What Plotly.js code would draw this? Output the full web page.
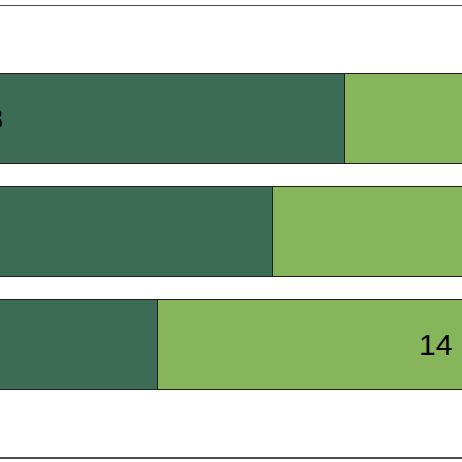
<!DOCTYPE html>
<html>
<head>
<meta charset="utf-8">
<script src="https://cdn.plot.ly/plotly-3.0.1.min.js"></script>
<style>
  html, body { margin: 0; padding: 0; background: #ffffff; overflow: hidden; }
  #chart { width: 462px; height: 462px; }
</style>
</head>
<body>
<div id="chart"></div>
<script>
// rows top -> bottom (tick labels fall outside the visible crop)
const categories = ["Group A", "Group B", "Group C"];
const darkValues = [17.98, 16.18, 13.28];
const lightValues = [9, 11, 14];

const DARK = "#3c6b56";
const LIGHT = "#87b55b";
const EDGE = "#1e1e1e";

const seg = (vals, color) => ({
  type: "bar",
  orientation: "h",
  y: categories,
  x: vals,
  texttemplate: "%{x:.0f}",
  textposition: "inside",
  insidetextanchor: "middle",
  textfont: { family: '"Liberation Sans", Arial, sans-serif', size: 30, color: "#000000" },
  marker: { color, line: { color: EDGE, width: 1 } },
  cliponaxis: true,
  hoverinfo: "skip",
});

const layout = {
  width: 462,
  height: 462,
  margin: { l: 0, r: 0, t: 6, b: 5, pad: 0 },
  paper_bgcolor: "#ffffff",
  plot_bgcolor: "#ffffff",
  barmode: "stack",
  bargap: 0.2,
  showlegend: false,
  xaxis: {
    range: [9.33, 20.94],
    showgrid: false, zeroline: false, showticklabels: false, ticks: "",
    showline: true, mirror: true, linecolor: "#4a4a4a", linewidth: 1.5,
  },
  yaxis: {
    type: "category",
    range: [3, -1],
    showgrid: false, zeroline: false, showticklabels: false, ticks: "",
    showline: false,
  },
};

Plotly.newPlot("chart", [seg(darkValues, DARK), seg(lightValues, LIGHT)], layout,
  { displayModeBar: false, staticPlot: true });
</script>
</body>
</html>
